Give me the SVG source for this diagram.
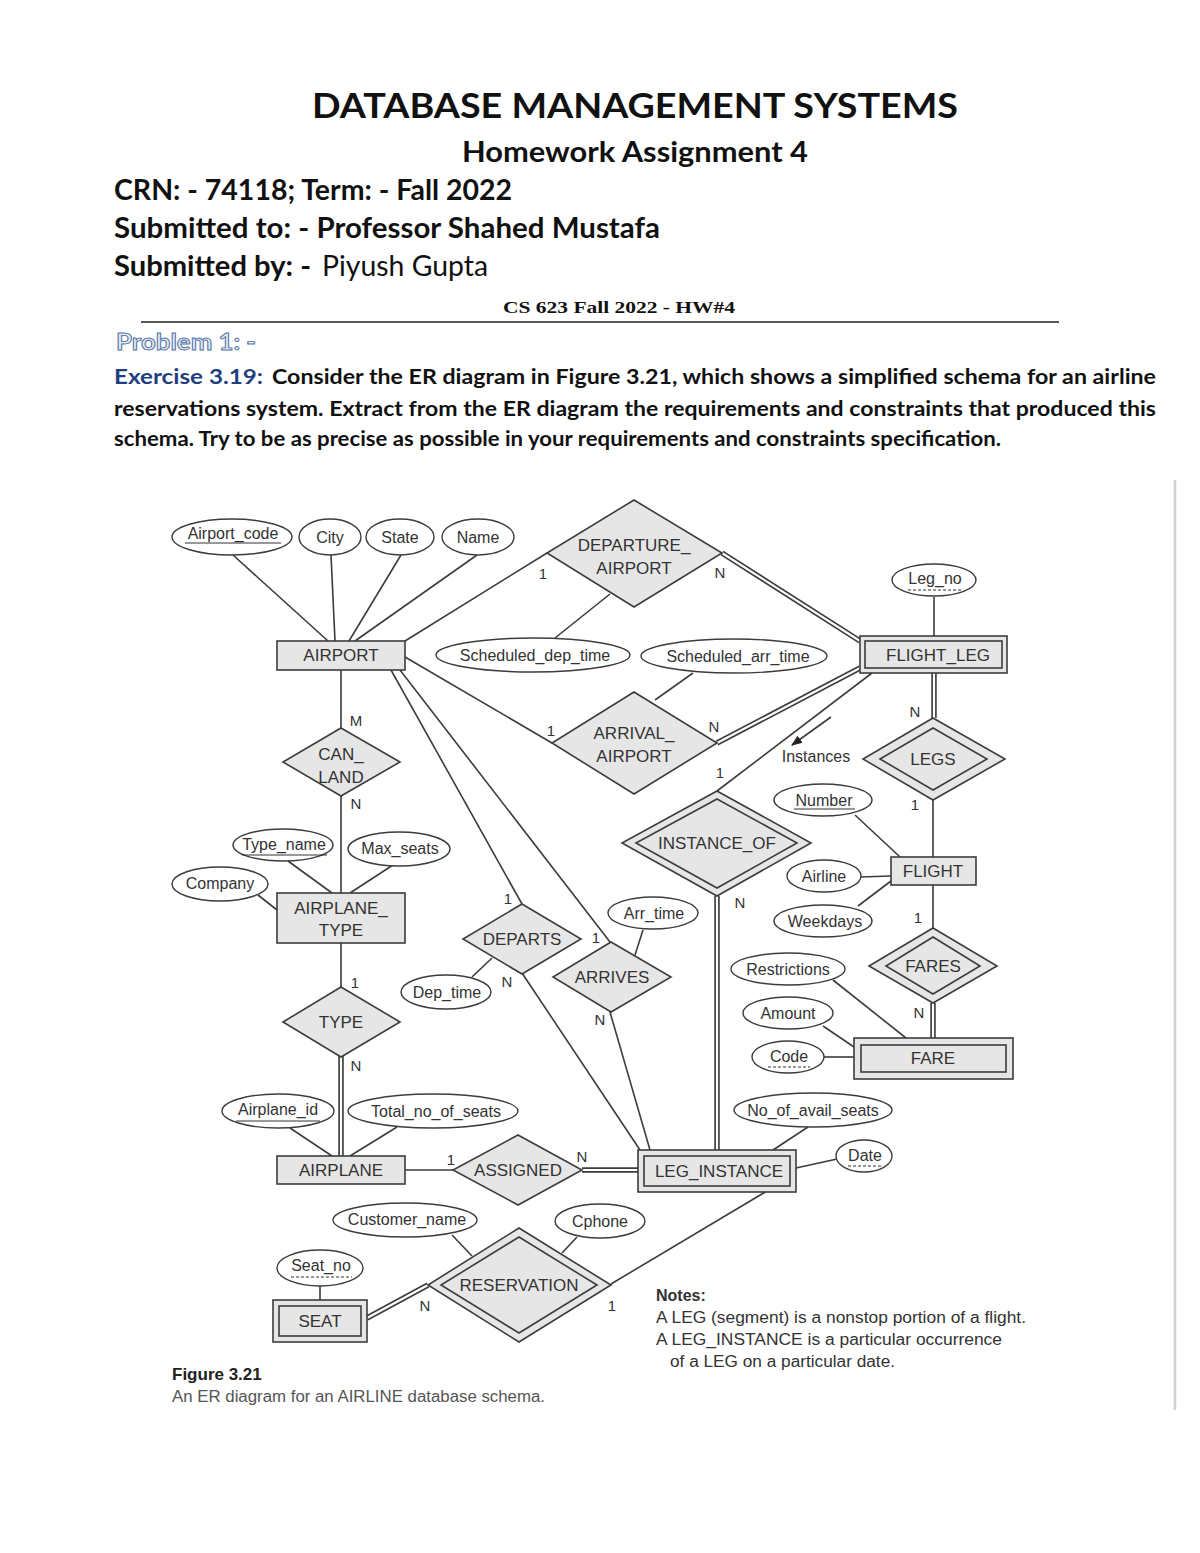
<svg xmlns="http://www.w3.org/2000/svg" width="1200" height="1553" viewBox="0 0 1200 1553">
<defs>
<style>
.hd{font-family:Lato,"Open Sans",sans-serif;font-weight:bold;fill:#111}
.hn{font-family:Lato,"Open Sans",sans-serif;font-weight:normal;fill:#111}
.ln{stroke:#3c3c3c;stroke-width:1.6;fill:none}
.dbl{stroke:#3c3c3c;stroke-width:5.5;fill:none}
.dbi{stroke:#fff;stroke-width:2.2;fill:none}
.ent{fill:#e6e6e6;stroke:#3c3c3c;stroke-width:1.6}
.out{fill:#e6e6e6;stroke:#3c3c3c;stroke-width:1.6}
.inn{fill:none;stroke:#3c3c3c;stroke-width:1.6}
.att{fill:#fff;stroke:#3c3c3c;stroke-width:1.4}
.t{font-family:"Liberation Sans",Arial,sans-serif;font-size:17px;fill:#333;text-anchor:middle}
.a{font-family:"Liberation Sans",Arial,sans-serif;font-size:16px;fill:#333;text-anchor:middle}
.c{font-family:"Liberation Sans",Arial,sans-serif;font-size:15px;fill:#333;text-anchor:middle}
.ul{stroke:#333;stroke-width:1.2}
.dul{stroke:#333;stroke-width:1.2;stroke-dasharray:3 2}
.note{font-family:"Liberation Sans",Arial,sans-serif;font-size:16px;fill:#333}
</style>
<marker id="arr" viewBox="0 0 10 10" refX="9" refY="5" markerWidth="11" markerHeight="11" orient="auto" markerUnits="userSpaceOnUse">
<path d="M0,1 L10,5 L0,9 z" fill="#222"/>
</marker>
</defs>
<rect width="1200" height="1553" fill="#fff"/>

<g id="header">
<text class="hd" x="635" y="118" font-size="35" text-anchor="middle" textLength="646" lengthAdjust="spacingAndGlyphs">DATABASE MANAGEMENT SYSTEMS</text>
<text class="hd" x="635" y="162" font-size="28" text-anchor="middle" textLength="346" lengthAdjust="spacingAndGlyphs">Homework Assignment 4</text>
<text class="hd" x="114" y="200" font-size="28" textLength="398" lengthAdjust="spacingAndGlyphs">CRN: - 74118; Term: - Fall 2022</text>
<text class="hd" x="114" y="238" font-size="28" textLength="546" lengthAdjust="spacingAndGlyphs">Submitted to: - Professor Shahed Mustafa</text>
<text class="hd" x="114" y="276" font-size="28" textLength="197" lengthAdjust="spacingAndGlyphs">Submitted by: -</text>
<text class="hn" x="322" y="276" font-size="28" textLength="166" lengthAdjust="spacingAndGlyphs">Piyush Gupta</text>
<text x="619" y="313" font-family="'Liberation Serif','Times New Roman',serif" font-size="17" font-weight="bold" fill="#111" text-anchor="middle" textLength="232" lengthAdjust="spacingAndGlyphs">CS 623 Fall 2022 - HW#4</text>
<line x1="141" y1="322" x2="1059" y2="322" stroke="#222" stroke-width="1.5"/>
<text x="116" y="350" font-family="Lato,'Open Sans',sans-serif" font-size="22" font-weight="bold" fill="#e4e8ef" stroke="#4f72a8" stroke-width="0.9" textLength="140" lengthAdjust="spacingAndGlyphs">Problem 1: -</text>
<text x="114" y="384" font-family="Lato,'Open Sans',sans-serif" font-size="20" font-weight="bold" fill="#1f3f80" textLength="149" lengthAdjust="spacingAndGlyphs">Exercise 3.19:</text>
<text class="hd" x="272" y="384" font-size="20" textLength="884" lengthAdjust="spacingAndGlyphs">Consider the ER diagram in Figure 3.21, which shows a simplified schema for an airline</text>
<text class="hd" x="114" y="416" font-size="20" textLength="1042" lengthAdjust="spacingAndGlyphs">reservations system. Extract from the ER diagram the requirements and constraints that produced this</text>
<text class="hd" x="114" y="446" font-size="20" textLength="887" lengthAdjust="spacingAndGlyphs">schema. Try to be as precise as possible in your requirements and constraints specification.</text>
</g>

<line x1="1175" y1="480" x2="1175" y2="1410" stroke="#cfcfcf" stroke-width="2.5"/>

<g id="connectors">
<line class="ln" x1="233" y1="555" x2="328" y2="641"/>
<line class="ln" x1="331" y1="555" x2="335" y2="641"/>
<line class="ln" x1="401" y1="555" x2="349" y2="641"/>
<line class="ln" x1="477" y1="555" x2="355" y2="641"/>
<line class="ln" x1="405" y1="641" x2="547" y2="553"/>
<line class="ln" x1="405" y1="657" x2="552" y2="743"/>
<line class="ln" x1="391" y1="670" x2="522" y2="904"/>
<line class="ln" x1="400" y1="670" x2="610" y2="942"/>
<line class="ln" x1="341" y1="670" x2="341" y2="728"/>
<line class="ln" x1="341" y1="796" x2="341" y2="893"/>
<line class="dbl" x1="722" y1="553" x2="860" y2="641"/>
<line class="dbi" x1="722" y1="553" x2="860" y2="641"/>
<line class="ln" x1="555" y1="638" x2="610" y2="594"/>
<line class="ln" x1="693" y1="673" x2="655" y2="700"/>
<line class="dbl" x1="717" y1="743" x2="860" y2="668"/>
<line class="dbi" x1="717" y1="743" x2="860" y2="668"/>
<line class="ln" x1="872" y1="673" x2="717" y2="791"/>
<line class="ln" x1="831" y1="717" x2="792" y2="745" marker-end="url(#arr)"/>
<line class="ln" x1="934" y1="597" x2="934" y2="636"/>
<line class="dbl" x1="934" y1="673" x2="934" y2="718"/>
<line class="dbi" x1="934" y1="673" x2="934" y2="718"/>
<line class="ln" x1="933" y1="800" x2="933" y2="857"/>
<line class="ln" x1="855" y1="815" x2="900" y2="857"/>
<line class="ln" x1="860" y1="877" x2="891" y2="876"/>
<line class="ln" x1="858" y1="906" x2="891" y2="881"/>
<line class="ln" x1="933" y1="885" x2="933" y2="928"/>
<line class="dbl" x1="933" y1="1003" x2="933" y2="1038"/>
<line class="dbi" x1="933" y1="1003" x2="933" y2="1038"/>
<line class="ln" x1="833" y1="980" x2="906" y2="1038"/>
<line class="ln" x1="823" y1="1026" x2="854" y2="1047"/>
<line class="ln" x1="824" y1="1057" x2="854" y2="1057"/>
<line class="dbl" x1="717" y1="896" x2="717" y2="1150"/>
<line class="dbi" x1="717" y1="896" x2="717" y2="1150"/>
<line class="ln" x1="472" y1="977" x2="492" y2="958"/>
<line class="ln" x1="522" y1="973" x2="640" y2="1150"/>
<line class="ln" x1="643" y1="930" x2="635" y2="955"/>
<line class="ln" x1="610" y1="1012" x2="650" y2="1150"/>
<line class="ln" x1="288" y1="861" x2="332" y2="893"/>
<line class="ln" x1="393" y1="865" x2="350" y2="893"/>
<line class="ln" x1="258" y1="895" x2="277" y2="910"/>
<line class="ln" x1="341" y1="943" x2="341" y2="987"/>
<line class="dbl" x1="341" y1="1056" x2="341" y2="1156"/>
<line class="dbi" x1="341" y1="1056" x2="341" y2="1156"/>
<line class="ln" x1="290" y1="1128" x2="332" y2="1156"/>
<line class="ln" x1="397" y1="1127" x2="350" y2="1156"/>
<line class="ln" x1="405" y1="1170" x2="453" y2="1170"/>
<line class="dbl" x1="582" y1="1170" x2="638" y2="1170"/>
<line class="dbi" x1="582" y1="1170" x2="638" y2="1170"/>
<line class="ln" x1="808" y1="1127" x2="773" y2="1150"/>
<line class="ln" x1="796" y1="1168" x2="837" y2="1159"/>
<line class="ln" x1="767" y1="1191" x2="611" y2="1284"/>
<line class="ln" x1="452" y1="1235" x2="472" y2="1256"/>
<line class="ln" x1="577" y1="1237" x2="562" y2="1253"/>
<line class="ln" x1="320" y1="1286" x2="320" y2="1300"/>
<line class="dbl" x1="367" y1="1318" x2="428" y2="1285"/>
<line class="dbi" x1="367" y1="1318" x2="428" y2="1285"/>
</g>

<g id="cardinalities">
<text class="c" x="543" y="579">1</text>
<text class="c" x="720" y="578">N</text>
<text class="c" x="551" y="736">1</text>
<text class="c" x="714" y="732">N</text>
<text class="c" x="720" y="778">1</text>
<text class="c" x="915" y="717">N</text>
<text class="c" x="915" y="810">1</text>
<text class="c" x="918" y="923">1</text>
<text class="c" x="919" y="1018">N</text>
<text class="c" x="740" y="908">N</text>
<text class="c" x="356" y="726">M</text>
<text class="c" x="356" y="809">N</text>
<text class="c" x="355" y="988">1</text>
<text class="c" x="356" y="1071">N</text>
<text class="c" x="508" y="904">1</text>
<text class="c" x="507" y="987">N</text>
<text class="c" x="596" y="943">1</text>
<text class="c" x="600" y="1025">N</text>
<text class="c" x="451" y="1165">1</text>
<text class="c" x="582" y="1162">N</text>
<text class="c" x="425" y="1311">N</text>
<text class="c" x="612" y="1311">1</text>
<text class="a" x="816" y="762">Instances</text>
</g>

<g id="airport">
<rect class="ent" x="277" y="641" width="128" height="29"/>
<text class="t" x="341" y="661">AIRPORT</text>
</g>
<g id="airport_code"><ellipse class="att" cx="232" cy="537" rx="60" ry="18"/><text class="a" x="233" y="539">Airport_code</text><line class="ul" x1="185" y1="543" x2="281" y2="543"/></g>
<g id="city"><ellipse class="att" cx="330" cy="537" rx="31" ry="18"/><text class="a" x="330" y="543">City</text></g>
<g id="state"><ellipse class="att" cx="400" cy="537" rx="34" ry="18"/><text class="a" x="400" y="543">State</text></g>
<g id="name"><ellipse class="att" cx="478" cy="537" rx="36" ry="18"/><text class="a" x="478" y="543">Name</text></g>

<g id="departure_airport">
<polygon class="out" points="634,500 722,553 634,607 547,553"/>
<text class="t" x="634" y="551">DEPARTURE_</text>
<text class="t" x="634" y="574">AIRPORT</text>
</g>
<g id="scheduled_dep_time"><ellipse class="att" cx="533" cy="655" rx="97" ry="17"/><text class="a" x="535" y="661">Scheduled_dep_time</text></g>
<g id="scheduled_arr_time"><ellipse class="att" cx="734" cy="656" rx="93" ry="17"/><text class="a" x="738" y="662">Scheduled_arr_time</text></g>
<g id="arrival_airport">
<polygon class="out" points="634,692 717,743 634,794 552,743"/>
<text class="t" x="634" y="739">ARRIVAL_</text>
<text class="t" x="634" y="762">AIRPORT</text>
</g>

<g id="flight_leg">
<rect class="ent" x="860" y="636" width="147" height="37"/>
<rect class="inn" x="865" y="641" width="137" height="27"/>
<text class="t" x="938" y="661">FLIGHT_LEG</text>
</g>
<g id="leg_no"><ellipse class="att" cx="934" cy="580" rx="42" ry="16"/><text class="a" x="935" y="584">Leg_no</text><line class="dul" x1="908" y1="590" x2="962" y2="590"/></g>

<g id="legs">
<polygon class="out" points="933,718 1005,759 933,800 863,759"/>
<polygon class="inn" points="933,728 987,759 933,790 880,759"/>
<text class="t" x="933" y="765">LEGS</text>
</g>

<g id="flight">
<rect class="ent" x="891" y="857" width="85" height="28"/>
<text class="t" x="933" y="877">FLIGHT</text>
</g>
<g id="number"><ellipse class="att" cx="823" cy="800" rx="49" ry="16"/><text class="a" x="824" y="806">Number</text><line class="ul" x1="794" y1="809" x2="855" y2="809"/></g>
<g id="airline"><ellipse class="att" cx="824" cy="876" rx="37" ry="16"/><text class="a" x="824" y="882">Airline</text></g>
<g id="weekdays"><ellipse class="att" cx="823" cy="921" rx="49" ry="16"/><text class="a" x="825" y="927">Weekdays</text></g>

<g id="fares">
<polygon class="out" points="933,928 997,966 933,1003 869,966"/>
<polygon class="inn" points="933,937 980,966 933,994 886,966"/>
<text class="t" x="933" y="972">FARES</text>
</g>
<g id="fare">
<rect class="ent" x="854" y="1038" width="159" height="41"/>
<rect class="inn" x="861" y="1045" width="145" height="27"/>
<text class="t" x="933" y="1064">FARE</text>
</g>
<g id="restrictions"><ellipse class="att" cx="788" cy="969" rx="57" ry="16"/><text class="a" x="788" y="975">Restrictions</text></g>
<g id="amount"><ellipse class="att" cx="788" cy="1013" rx="45" ry="16"/><text class="a" x="788" y="1019">Amount</text></g>
<g id="code"><ellipse class="att" cx="788" cy="1057" rx="36" ry="16"/><text class="a" x="789" y="1062">Code</text><line class="dul" x1="768" y1="1067" x2="810" y2="1067"/></g>

<g id="instance_of">
<polygon class="out" points="717,791 811,843 717,896 622,843"/>
<polygon class="inn" points="717,799 797,843 717,888 636,843"/>
<text class="t" x="717" y="849">INSTANCE_OF</text>
</g>

<g id="departs">
<polygon class="out" points="522,904 581,939 522,974 463,939"/>
<text class="t" x="522" y="945">DEPARTS</text>
</g>
<g id="dep_time"><ellipse class="att" cx="446" cy="992" rx="45" ry="17"/><text class="a" x="447" y="998">Dep_time</text></g>
<g id="arrives">
<polygon class="out" points="611,942 671,977 611,1012 553,977"/>
<text class="t" x="612" y="983">ARRIVES</text>
</g>
<g id="arr_time"><ellipse class="att" cx="653" cy="913" rx="45" ry="16"/><text class="a" x="654" y="919">Arr_time</text></g>

<g id="can_land">
<polygon class="out" points="341,728 400,762 341,796 283,762"/>
<text class="t" x="341" y="760">CAN_</text>
<text class="t" x="341" y="783">LAND</text>
</g>
<g id="airplane_type">
<rect class="ent" x="277" y="893" width="128" height="50"/>
<text class="t" x="341" y="914">AIRPLANE_</text>
<text class="t" x="341" y="936">TYPE</text>
</g>
<g id="type_name"><ellipse class="att" cx="283" cy="845" rx="50" ry="16"/><text class="a" x="284" y="850">Type_name</text><line class="ul" x1="242" y1="855" x2="327" y2="855"/></g>
<g id="max_seats"><ellipse class="att" cx="399" cy="849" rx="51" ry="17"/><text class="a" x="400" y="854">Max_seats</text></g>
<g id="company"><ellipse class="att" cx="220" cy="884" rx="48" ry="17"/><text class="a" x="220" y="889">Company</text></g>

<g id="type">
<polygon class="out" points="341,987 400,1022 341,1057 283,1022"/>
<text class="t" x="341" y="1028">TYPE</text>
</g>

<g id="airplane">
<rect class="ent" x="277" y="1156" width="128" height="28"/>
<text class="t" x="341" y="1176">AIRPLANE</text>
</g>
<g id="airplane_id"><ellipse class="att" cx="278" cy="1111" rx="56" ry="17"/><text class="a" x="278" y="1115">Airplane_id</text><line class="ul" x1="236" y1="1121" x2="320" y2="1121"/></g>
<g id="total_no_of_seats"><ellipse class="att" cx="433" cy="1111" rx="85" ry="17"/><text class="a" x="436" y="1117">Total_no_of_seats</text></g>

<g id="assigned">
<polygon class="out" points="518,1135 582,1170 518,1205 453,1170"/>
<text class="t" x="518" y="1176">ASSIGNED</text>
</g>

<g id="leg_instance">
<rect class="ent" x="638" y="1150" width="158" height="42"/>
<rect class="inn" x="644" y="1156" width="146" height="30"/>
<text class="t" x="719" y="1177">LEG_INSTANCE</text>
</g>
<g id="no_of_avail_seats"><ellipse class="att" cx="813" cy="1110" rx="79" ry="17"/><text class="a" x="813" y="1116">No_of_avail_seats</text></g>
<g id="date"><ellipse class="att" cx="864" cy="1156" rx="28" ry="16"/><text class="a" x="865" y="1161">Date</text><line class="dul" x1="848" y1="1166" x2="882" y2="1166"/></g>

<g id="reservation">
<polygon class="out" points="519,1228 611,1285 519,1342 428,1285"/>
<polygon class="inn" points="519,1237 597,1285 519,1333 441,1285"/>
<text class="t" x="519" y="1291">RESERVATION</text>
</g>
<g id="customer_name"><ellipse class="att" cx="405" cy="1220" rx="72" ry="17"/><text class="a" x="407" y="1225">Customer_name</text></g>
<g id="cphone"><ellipse class="att" cx="600" cy="1221" rx="45" ry="17"/><text class="a" x="600" y="1227">Cphone</text></g>

<g id="seat">
<rect class="ent" x="273" y="1300" width="94" height="42"/>
<rect class="inn" x="279" y="1306" width="82" height="30"/>
<text class="t" x="320" y="1327">SEAT</text>
</g>
<g id="seat_no"><ellipse class="att" cx="320" cy="1268" rx="43" ry="18"/><text class="a" x="321" y="1271">Seat_no</text><line class="dul" x1="291" y1="1277" x2="352" y2="1277"/></g>

<g id="caption">
<text x="172" y="1380" font-family="'Liberation Sans',Arial,sans-serif" font-size="17" font-weight="bold" fill="#222">Figure 3.21</text>
<text x="172" y="1402" font-family="'Liberation Sans',Arial,sans-serif" font-size="16" fill="#555" textLength="373" lengthAdjust="spacingAndGlyphs">An ER diagram for an AIRLINE database schema.</text>
</g>
<g id="notes">
<text class="note" x="656" y="1301" font-weight="bold" fill="#222">Notes:</text>
<text class="note" x="656" y="1323" textLength="370" lengthAdjust="spacingAndGlyphs">A LEG (segment) is a nonstop portion of a flight.</text>
<text class="note" x="656" y="1345" textLength="346" lengthAdjust="spacingAndGlyphs">A LEG_INSTANCE is a particular occurrence</text>
<text class="note" x="670" y="1367" textLength="225" lengthAdjust="spacingAndGlyphs">of a LEG on a particular date.</text>
</g>
</svg>
